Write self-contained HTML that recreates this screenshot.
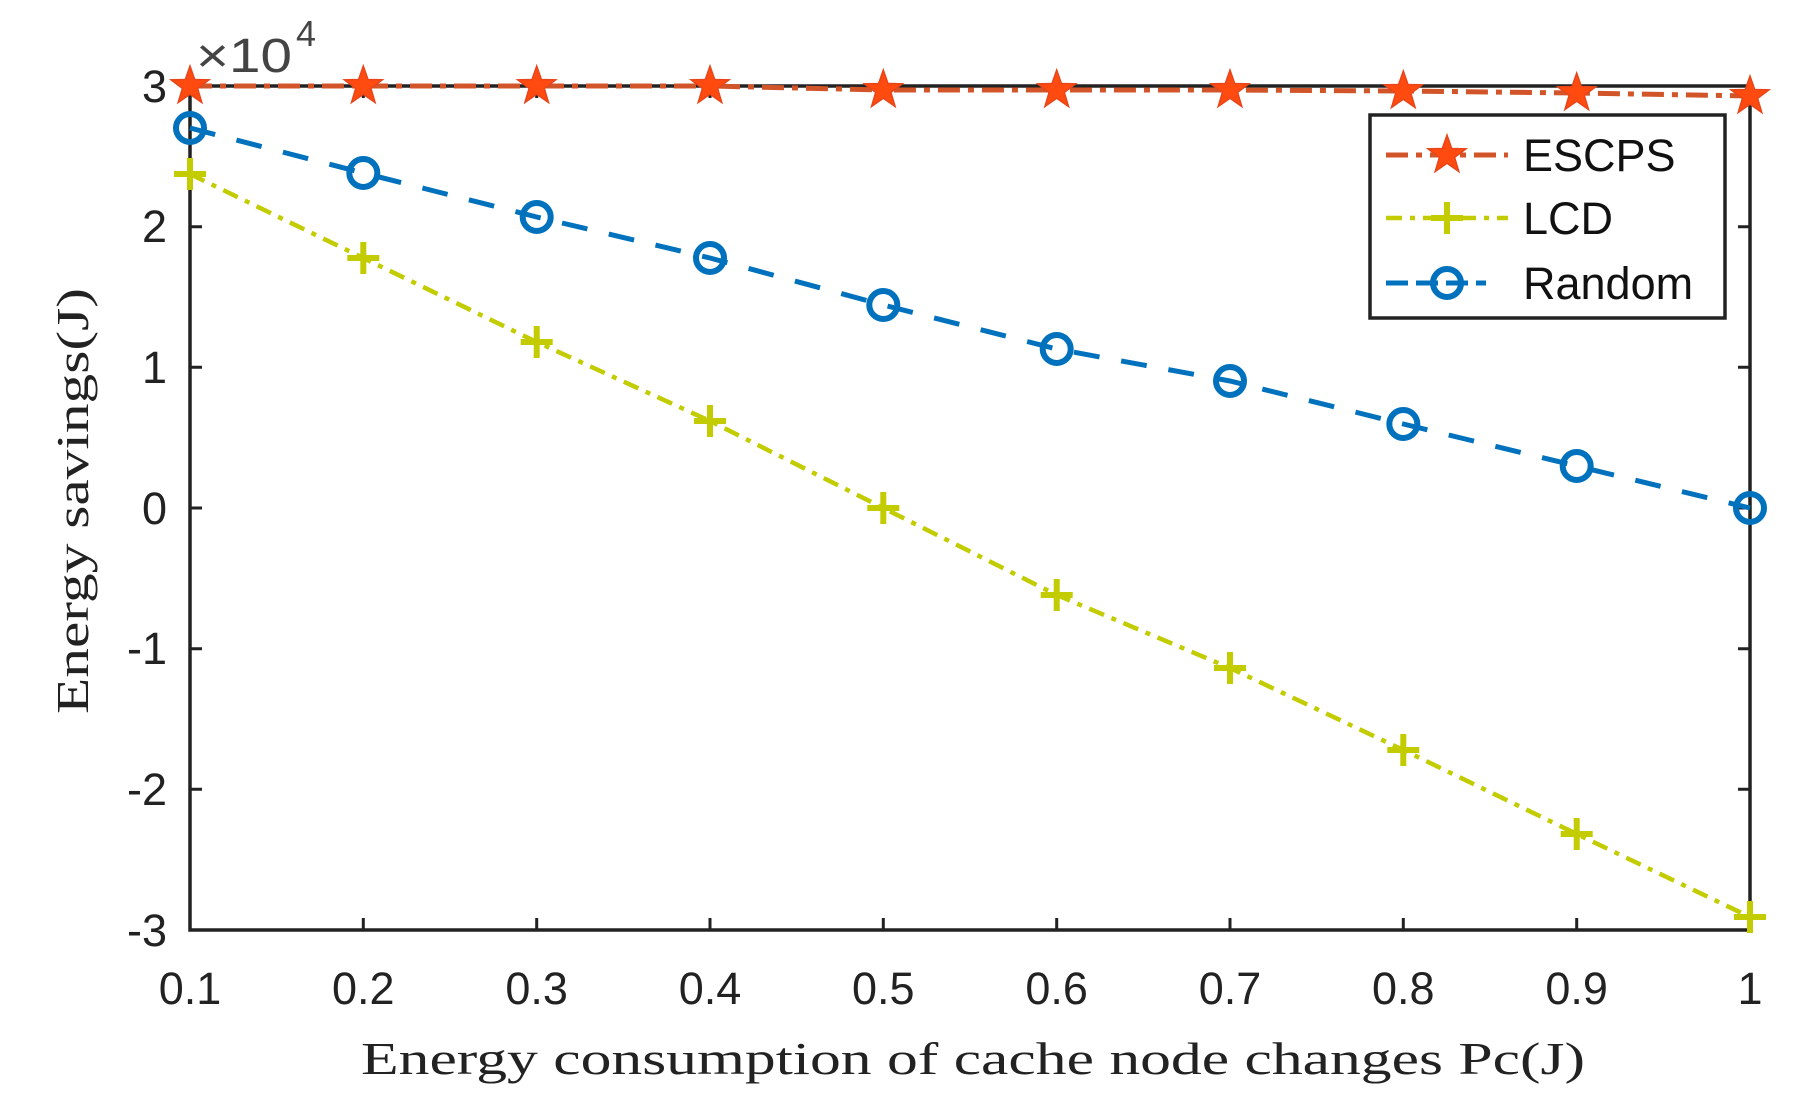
<!DOCTYPE html>
<html><head><meta charset="utf-8"><style>
html,body{margin:0;padding:0;background:#fff;}
svg{display:block;}
text{font-family:"Liberation Sans",Arial,sans-serif;}
</style></head><body>
<svg width="1805" height="1118" viewBox="0 0 1805 1118" xmlns="http://www.w3.org/2000/svg">
<rect width="1805" height="1118" fill="#fff"/>
<rect x="190" y="86" width="1560" height="844" fill="none" stroke="#222" stroke-width="3.5"/>
<g stroke="#222" stroke-width="3">
<path d="M363.3 930v-12M536.7 930v-12M710 930v-12M883.3 930v-12M1056.7 930v-12M1230 930v-12M1403.3 930v-12M1576.7 930v-12
M363.3 86v12M536.7 86v12M710 86v12M883.3 86v12M1056.7 86v12M1230 86v12M1403.3 86v12M1576.7 86v12
M190 226.7h12M190 367.3h12M190 508h12M190 648.7h12M190 789.3h12
M1750 226.7h-12M1750 367.3h-12M1750 508h-12M1750 648.7h-12M1750 789.3h-12"/>
</g>
<g font-size="45" fill="#222" text-anchor="middle">
<text x="190" y="1004">0.1</text><text x="363.3" y="1004">0.2</text><text x="536.7" y="1004">0.3</text>
<text x="710" y="1004">0.4</text><text x="883.3" y="1004">0.5</text><text x="1056.7" y="1004">0.6</text>
<text x="1230" y="1004">0.7</text><text x="1403.3" y="1004">0.8</text><text x="1576.7" y="1004">0.9</text>
<text x="1750" y="1004">1</text>
</g>
<g font-size="45" fill="#222" text-anchor="end">
<text x="167" y="102">3</text><text x="167" y="242">2</text><text x="167" y="383">1</text>
<text x="167" y="524">0</text><text x="167" y="664">-1</text><text x="167" y="805">-2</text>
<text x="167" y="946">-3</text>
</g>
<text x="196" y="72" font-size="48" fill="#444" textLength="96" lengthAdjust="spacingAndGlyphs">×10</text>
<text x="296" y="46" font-size="36" fill="#444">4</text>
<text x="973" y="1074" font-size="46" fill="#222" text-anchor="middle" textLength="1224" lengthAdjust="spacingAndGlyphs" style="font-family:'Liberation Serif',serif">Energy consumption of cache node changes Pc(J)</text>
<text transform="translate(88,501) rotate(-90)" font-size="46" fill="#222" text-anchor="middle" textLength="426" lengthAdjust="spacingAndGlyphs" style="font-family:'Liberation Serif',serif">Energy savings(J)</text>

<defs>
<polygon id="star" points="0,-20 4.7,-6.5 19,-6.2 7.6,2.4 11.8,16.5 0,8.2 -11.8,16.5 -7.6,2.4 -19,-6.2 -4.7,-6.5" fill="#ff4a10" stroke="#e8461a" stroke-width="1.5"/>
<path id="plus" d="M-16 0H16M0 -16V16" stroke="#c2cc00" stroke-width="6"/>
<circle id="circ" r="14" fill="none" stroke="#0072bd" stroke-width="6"/>
</defs>
<polyline fill="none" stroke="#d2552a" stroke-width="5" stroke-dasharray="22,8,6,8" points="190,86 363.3,86 536.7,86 710,86 883.3,90 1056.7,90 1230,90 1403.3,91 1576.7,93 1750,96"/>
<polyline fill="none" stroke="#c2cc00" stroke-width="4.5" stroke-dasharray="16,8,5,8" points="190,174 363.3,258 536.7,342 710,421 883.3,508 1056.7,595 1230,668 1403.3,750 1576.7,834 1750,917"/>
<polyline fill="none" stroke="#0072bd" stroke-width="5" stroke-dasharray="26,22" points="190,128 363.3,173 536.7,217 710,258 883.3,305 1056.7,349 1230,381 1403.3,424 1576.7,466 1750,508"/>
<g>
<use href="#star" x="190" y="86"/><use href="#star" x="363.3" y="86"/><use href="#star" x="536.7" y="86"/><use href="#star" x="710" y="86"/><use href="#star" x="883.3" y="90"/><use href="#star" x="1056.7" y="90"/><use href="#star" x="1230" y="90"/><use href="#star" x="1403.3" y="91"/><use href="#star" x="1576.7" y="93"/><use href="#star" x="1750" y="96"/>
<use href="#plus" x="190" y="174"/><use href="#plus" x="363.3" y="258"/><use href="#plus" x="536.7" y="342"/><use href="#plus" x="710" y="421"/><use href="#plus" x="883.3" y="508"/><use href="#plus" x="1056.7" y="595"/><use href="#plus" x="1230" y="668"/><use href="#plus" x="1403.3" y="750"/><use href="#plus" x="1576.7" y="834"/><use href="#plus" x="1750" y="917"/>
<use href="#circ" x="190" y="128"/><use href="#circ" x="363.3" y="173"/><use href="#circ" x="536.7" y="217"/><use href="#circ" x="710" y="258"/><use href="#circ" x="883.3" y="305"/><use href="#circ" x="1056.7" y="349"/><use href="#circ" x="1230" y="381"/><use href="#circ" x="1403.3" y="424"/><use href="#circ" x="1576.7" y="466"/><use href="#circ" x="1750" y="508"/>
</g>
<rect x="1370" y="115" width="355" height="203" fill="#fff" stroke="#222" stroke-width="3.5"/>
<line x1="1386" y1="155" x2="1508" y2="155" stroke="#d2552a" stroke-width="5" stroke-dasharray="22,8,6,8"/>
<use href="#star" x="1447" y="155"/>
<line x1="1386" y1="218" x2="1508" y2="218" stroke="#c2cc00" stroke-width="4.5" stroke-dasharray="16,8,5,8"/>
<use href="#plus" x="1447" y="218"/>
<line x1="1386" y1="283" x2="1486" y2="283" stroke="#0072bd" stroke-width="5" stroke-dasharray="22,8"/>
<use href="#circ" x="1447" y="283"/>
<g font-size="45" fill="#111">
<text x="1523" y="171">ESCPS</text>
<text x="1523" y="234">LCD</text>
<text x="1523" y="299">Random</text>
</g>
</svg>
</body></html>
